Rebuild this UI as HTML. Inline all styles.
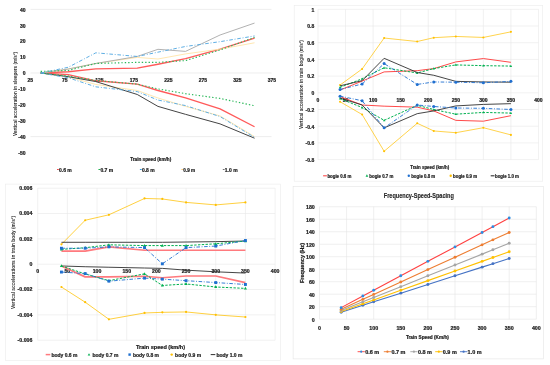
<!DOCTYPE html><html><head><meta charset="utf-8"><style>html,body{margin:0;padding:0;background:#fff;}svg{display:block;will-change:transform;}</style></head><body>
<svg width="550" height="365" viewBox="0 0 550 365" font-family="Liberation Sans, sans-serif">
<rect width="550" height="365" fill="#fff"/>
<line x1="30.5" y1="9.4" x2="271.5" y2="9.4" stroke="#e6e6e6" stroke-width="0.7"/>
<line x1="30.5" y1="73" x2="271.5" y2="73" stroke="#e6e6e6" stroke-width="0.7"/>
<line x1="30.5" y1="136.6" x2="271.5" y2="136.6" stroke="#e6e6e6" stroke-width="0.7"/>
<text x="25.6" y="152.7" font-size="5.0" font-weight="bold" fill="#1e1e1e" text-anchor="end" dominant-baseline="central" stroke="#1e1e1e" stroke-width="0.22">-50</text>
<text x="25.6" y="136.8" font-size="5.0" font-weight="bold" fill="#1e1e1e" text-anchor="end" dominant-baseline="central" stroke="#1e1e1e" stroke-width="0.22">-40</text>
<text x="25.6" y="120.9" font-size="5.0" font-weight="bold" fill="#1e1e1e" text-anchor="end" dominant-baseline="central" stroke="#1e1e1e" stroke-width="0.22">-30</text>
<text x="25.6" y="105" font-size="5.0" font-weight="bold" fill="#1e1e1e" text-anchor="end" dominant-baseline="central" stroke="#1e1e1e" stroke-width="0.22">-20</text>
<text x="25.6" y="89.1" font-size="5.0" font-weight="bold" fill="#1e1e1e" text-anchor="end" dominant-baseline="central" stroke="#1e1e1e" stroke-width="0.22">-10</text>
<text x="25.6" y="73.2" font-size="5.0" font-weight="bold" fill="#1e1e1e" text-anchor="end" dominant-baseline="central" stroke="#1e1e1e" stroke-width="0.22">0</text>
<text x="25.6" y="57.3" font-size="5.0" font-weight="bold" fill="#1e1e1e" text-anchor="end" dominant-baseline="central" stroke="#1e1e1e" stroke-width="0.22">10</text>
<text x="25.6" y="41.4" font-size="5.0" font-weight="bold" fill="#1e1e1e" text-anchor="end" dominant-baseline="central" stroke="#1e1e1e" stroke-width="0.22">20</text>
<text x="25.6" y="25.5" font-size="5.0" font-weight="bold" fill="#1e1e1e" text-anchor="end" dominant-baseline="central" stroke="#1e1e1e" stroke-width="0.22">30</text>
<text x="25.6" y="9.6" font-size="5.0" font-weight="bold" fill="#1e1e1e" text-anchor="end" dominant-baseline="central" stroke="#1e1e1e" stroke-width="0.22">40</text>
<text x="30.3" y="80" font-size="5.0" font-weight="bold" fill="#1e1e1e" text-anchor="middle" dominant-baseline="central" stroke="#1e1e1e" stroke-width="0.22">25</text>
<text x="64.8" y="80" font-size="5.0" font-weight="bold" fill="#1e1e1e" text-anchor="middle" dominant-baseline="central" stroke="#1e1e1e" stroke-width="0.22">75</text>
<text x="99.3" y="80" font-size="5.0" font-weight="bold" fill="#1e1e1e" text-anchor="middle" dominant-baseline="central" stroke="#1e1e1e" stroke-width="0.22">125</text>
<text x="133.8" y="80" font-size="5.0" font-weight="bold" fill="#1e1e1e" text-anchor="middle" dominant-baseline="central" stroke="#1e1e1e" stroke-width="0.22">175</text>
<text x="168.3" y="80" font-size="5.0" font-weight="bold" fill="#1e1e1e" text-anchor="middle" dominant-baseline="central" stroke="#1e1e1e" stroke-width="0.22">225</text>
<text x="202.8" y="80" font-size="5.0" font-weight="bold" fill="#1e1e1e" text-anchor="middle" dominant-baseline="central" stroke="#1e1e1e" stroke-width="0.22">275</text>
<text x="237.3" y="80" font-size="5.0" font-weight="bold" fill="#1e1e1e" text-anchor="middle" dominant-baseline="central" stroke="#1e1e1e" stroke-width="0.22">325</text>
<text x="271.8" y="80" font-size="5.0" font-weight="bold" fill="#1e1e1e" text-anchor="middle" dominant-baseline="central" stroke="#1e1e1e" stroke-width="0.22">375</text>
<text x="15.8" y="94" font-size="4.9" font-weight="bold" fill="#333" text-anchor="middle" dominant-baseline="central" textLength="84" lengthAdjust="spacingAndGlyphs" transform="rotate(-90 15.8 94)" stroke="#333" stroke-width="0">Vertical acceleration in sleepers (m/s²)</text>
<text x="150.7" y="159.4" font-size="5.0" font-weight="bold" fill="#1e1e1e" text-anchor="middle" dominant-baseline="central" textLength="41" lengthAdjust="spacingAndGlyphs" stroke="#1e1e1e" stroke-width="0.22">Train speed (km/h)</text>
<polyline points="40.65,73 68.25,71.73 95.85,68.87 137.25,68.07 157.95,64.25 185.55,58.69 220.05,49.15 254.55,38.02" fill="none" stroke="#ff5a5a" stroke-width="1.35" stroke-linejoin="round"/>
<polyline points="40.65,73 68.25,74.59 95.85,80.79 137.25,84.13 157.95,90.49 185.55,97.96 220.05,108.93 254.55,126.74" fill="none" stroke="#ff5a5a" stroke-width="1.35" stroke-linejoin="round"/>
<polyline points="40.65,73 68.25,69.03 95.85,63.46 137.25,57.42 157.95,59.01 185.55,53.92 220.05,49.15 254.55,42.79" fill="none" stroke="#ffe4a8" stroke-width="0.9" stroke-linejoin="round"/>
<polyline points="40.65,73 68.25,76.97 95.85,84.45 137.25,90.49 157.95,97.96 185.55,106.39 220.05,115.93 254.55,136.6" fill="none" stroke="#ffe4a8" stroke-width="0.9" stroke-linejoin="round"/>
<polyline points="40.65,73 68.25,69.03 95.85,63.46 137.25,56.46 157.95,49.31 185.55,51.38 220.05,35 254.55,23.07" fill="none" stroke="#a8a8a8" stroke-width="0.9" stroke-linejoin="round"/>
<polyline points="40.65,73 68.25,76.66 95.85,81.59 137.25,94.47 157.95,106.39 185.55,114.34 220.05,123.88 254.55,138.19" fill="none" stroke="#444444" stroke-width="1.0" stroke-linejoin="round"/>
<polyline points="40.65,71.41 68.25,70.46 95.85,63.46 137.25,62.35 157.95,62.35 185.55,60.6 220.05,49.95 254.55,37.38" fill="none" stroke="#2bb85a" stroke-width="1.15" stroke-dasharray="1.4 2" stroke-linejoin="round"/>
<polyline points="40.65,73 68.25,76.02 95.85,80.47 137.25,84.13 157.95,88.9 185.55,93.67 220.05,98.44 254.55,105.75" fill="none" stroke="#2bb85a" stroke-width="1.15" stroke-dasharray="1.4 2" stroke-linejoin="round"/>
<polyline points="40.65,73 68.25,67.28 95.85,52.81 137.25,56.46 157.95,52.17 185.55,46.45 220.05,41.68 254.55,35.95" fill="none" stroke="#55aae2" stroke-width="0.95" stroke-dasharray="3.6 1.8 0.9 1.8" stroke-linejoin="round"/>
<polyline points="40.65,73 68.25,77.77 95.85,86.83 137.25,91.6 157.95,100.03 185.55,105.59 220.05,116.57 254.55,137.4" fill="none" stroke="#55aae2" stroke-width="0.95" stroke-dasharray="3.6 1.8 0.9 1.8" stroke-linejoin="round"/>
<line x1="57" y1="169.5" x2="58.8" y2="169.5" stroke="#f04848" stroke-width="1.0"/>
<text x="59" y="169.5" font-size="5.2" font-weight="bold" fill="#1e1e1e" text-anchor="start" dominant-baseline="central" textLength="12.8" lengthAdjust="spacingAndGlyphs" stroke="#1e1e1e" stroke-width="0.22">0.6 m</text>
<line x1="98.45" y1="169.5" x2="100.25" y2="169.5" stroke="#22b050" stroke-width="1.0"/>
<text x="100.45" y="169.5" font-size="5.2" font-weight="bold" fill="#1e1e1e" text-anchor="start" dominant-baseline="central" textLength="12.8" lengthAdjust="spacingAndGlyphs" stroke="#1e1e1e" stroke-width="0.22">0.7 m</text>
<line x1="139.9" y1="169.5" x2="141.7" y2="169.5" stroke="#3399dd" stroke-width="1.0"/>
<text x="141.9" y="169.5" font-size="5.2" font-weight="bold" fill="#1e1e1e" text-anchor="start" dominant-baseline="central" textLength="12.8" lengthAdjust="spacingAndGlyphs" stroke="#1e1e1e" stroke-width="0.22">0.8 m</text>
<line x1="181.35" y1="169.5" x2="183.15" y2="169.5" stroke="#ffd080" stroke-width="1.0"/>
<text x="183.35" y="169.5" font-size="5.2" font-weight="bold" fill="#1e1e1e" text-anchor="start" dominant-baseline="central" textLength="11.8" lengthAdjust="spacingAndGlyphs" stroke="#1e1e1e" stroke-width="0.22">0.9 m</text>
<line x1="222.8" y1="169.5" x2="224.6" y2="169.5" stroke="#707070" stroke-width="1.0"/>
<text x="224.8" y="169.5" font-size="5.2" font-weight="bold" fill="#1e1e1e" text-anchor="start" dominant-baseline="central" textLength="12.8" lengthAdjust="spacingAndGlyphs" stroke="#1e1e1e" stroke-width="0.22">1.0 m</text>
<rect x="294.2" y="5.5" width="248.5" height="175.7" fill="none" stroke="#ececec" stroke-width="0.6"/>
<line x1="318" y1="9.3" x2="538.5" y2="9.3" stroke="#e8e8e8" stroke-width="0.6"/>
<line x1="318" y1="26" x2="538.5" y2="26" stroke="#e8e8e8" stroke-width="0.6"/>
<line x1="318" y1="42.7" x2="538.5" y2="42.7" stroke="#e8e8e8" stroke-width="0.6"/>
<line x1="318" y1="59.4" x2="538.5" y2="59.4" stroke="#e8e8e8" stroke-width="0.6"/>
<line x1="318" y1="76.1" x2="538.5" y2="76.1" stroke="#e8e8e8" stroke-width="0.6"/>
<line x1="318" y1="92.8" x2="538.5" y2="92.8" stroke="#e8e8e8" stroke-width="0.6"/>
<line x1="318" y1="109.5" x2="538.5" y2="109.5" stroke="#e8e8e8" stroke-width="0.6"/>
<line x1="318" y1="126.2" x2="538.5" y2="126.2" stroke="#e8e8e8" stroke-width="0.6"/>
<line x1="318" y1="142.9" x2="538.5" y2="142.9" stroke="#e8e8e8" stroke-width="0.6"/>
<line x1="318" y1="159.6" x2="538.5" y2="159.6" stroke="#e8e8e8" stroke-width="0.6"/>
<line x1="318" y1="9.3" x2="318" y2="159.6" stroke="#e8e8e8" stroke-width="0.6"/>
<line x1="345.56" y1="9.3" x2="345.56" y2="159.6" stroke="#e8e8e8" stroke-width="0.6"/>
<line x1="373.12" y1="9.3" x2="373.12" y2="159.6" stroke="#e8e8e8" stroke-width="0.6"/>
<line x1="400.68" y1="9.3" x2="400.68" y2="159.6" stroke="#e8e8e8" stroke-width="0.6"/>
<line x1="428.24" y1="9.3" x2="428.24" y2="159.6" stroke="#e8e8e8" stroke-width="0.6"/>
<line x1="455.8" y1="9.3" x2="455.8" y2="159.6" stroke="#e8e8e8" stroke-width="0.6"/>
<line x1="483.36" y1="9.3" x2="483.36" y2="159.6" stroke="#e8e8e8" stroke-width="0.6"/>
<line x1="510.92" y1="9.3" x2="510.92" y2="159.6" stroke="#e8e8e8" stroke-width="0.6"/>
<line x1="538.48" y1="9.3" x2="538.48" y2="159.6" stroke="#e8e8e8" stroke-width="0.6"/>
<text x="314.2" y="9.6" font-size="5.0" font-weight="bold" fill="#1e1e1e" text-anchor="end" dominant-baseline="central" stroke="#1e1e1e" stroke-width="0.22">1</text>
<text x="314.2" y="26.3" font-size="5.0" font-weight="bold" fill="#1e1e1e" text-anchor="end" dominant-baseline="central" stroke="#1e1e1e" stroke-width="0.22">0.8</text>
<text x="314.2" y="43" font-size="5.0" font-weight="bold" fill="#1e1e1e" text-anchor="end" dominant-baseline="central" stroke="#1e1e1e" stroke-width="0.22">0.6</text>
<text x="314.2" y="59.7" font-size="5.0" font-weight="bold" fill="#1e1e1e" text-anchor="end" dominant-baseline="central" stroke="#1e1e1e" stroke-width="0.22">0.4</text>
<text x="314.2" y="76.4" font-size="5.0" font-weight="bold" fill="#1e1e1e" text-anchor="end" dominant-baseline="central" stroke="#1e1e1e" stroke-width="0.22">0.2</text>
<text x="314.2" y="93.1" font-size="5.0" font-weight="bold" fill="#1e1e1e" text-anchor="end" dominant-baseline="central" stroke="#1e1e1e" stroke-width="0.22">0</text>
<text x="314.2" y="109.8" font-size="5.0" font-weight="bold" fill="#1e1e1e" text-anchor="end" dominant-baseline="central" stroke="#1e1e1e" stroke-width="0.22">-0.2</text>
<text x="314.2" y="126.5" font-size="5.0" font-weight="bold" fill="#1e1e1e" text-anchor="end" dominant-baseline="central" stroke="#1e1e1e" stroke-width="0.22">-0.4</text>
<text x="314.2" y="143.2" font-size="5.0" font-weight="bold" fill="#1e1e1e" text-anchor="end" dominant-baseline="central" stroke="#1e1e1e" stroke-width="0.22">-0.6</text>
<text x="314.2" y="159.9" font-size="5.0" font-weight="bold" fill="#1e1e1e" text-anchor="end" dominant-baseline="central" stroke="#1e1e1e" stroke-width="0.22">-0.8</text>
<text x="318" y="100" font-size="5.0" font-weight="bold" fill="#1e1e1e" text-anchor="middle" dominant-baseline="central" stroke="#1e1e1e" stroke-width="0.22">0</text>
<text x="345.56" y="100" font-size="5.0" font-weight="bold" fill="#1e1e1e" text-anchor="middle" dominant-baseline="central" stroke="#1e1e1e" stroke-width="0.22">50</text>
<text x="373.12" y="100" font-size="5.0" font-weight="bold" fill="#1e1e1e" text-anchor="middle" dominant-baseline="central" stroke="#1e1e1e" stroke-width="0.22">100</text>
<text x="400.68" y="100" font-size="5.0" font-weight="bold" fill="#1e1e1e" text-anchor="middle" dominant-baseline="central" stroke="#1e1e1e" stroke-width="0.22">150</text>
<text x="428.24" y="100" font-size="5.0" font-weight="bold" fill="#1e1e1e" text-anchor="middle" dominant-baseline="central" stroke="#1e1e1e" stroke-width="0.22">200</text>
<text x="455.8" y="100" font-size="5.0" font-weight="bold" fill="#1e1e1e" text-anchor="middle" dominant-baseline="central" stroke="#1e1e1e" stroke-width="0.22">250</text>
<text x="483.36" y="100" font-size="5.0" font-weight="bold" fill="#1e1e1e" text-anchor="middle" dominant-baseline="central" stroke="#1e1e1e" stroke-width="0.22">300</text>
<text x="510.92" y="100" font-size="5.0" font-weight="bold" fill="#1e1e1e" text-anchor="middle" dominant-baseline="central" stroke="#1e1e1e" stroke-width="0.22">350</text>
<text x="538.48" y="100" font-size="5.0" font-weight="bold" fill="#1e1e1e" text-anchor="middle" dominant-baseline="central" stroke="#1e1e1e" stroke-width="0.22">400</text>
<text x="302" y="84.6" font-size="4.9" font-weight="bold" fill="#333" text-anchor="middle" dominant-baseline="central" textLength="89" lengthAdjust="spacingAndGlyphs" transform="rotate(-90 302 84.6)" stroke="#333" stroke-width="0">Vertical acceleration in train bogie (m/s²)</text>
<text x="429.7" y="167.2" font-size="5.0" font-weight="bold" fill="#1e1e1e" text-anchor="middle" dominant-baseline="central" textLength="39" lengthAdjust="spacingAndGlyphs" stroke="#1e1e1e" stroke-width="0.22">Train speed (km/h)</text>
<polyline points="340.05,85.03 362.1,69 384.14,38.02 417.22,41.53 433.75,37.69 455.8,36.44 483.36,37.44 510.92,31.84" fill="none" stroke="#ffc000" stroke-width="0.7" stroke-linejoin="round"/>
<circle cx="340.05" cy="85.03" r="1.05" fill="#ffc000"/>
<circle cx="362.1" cy="69" r="1.05" fill="#ffc000"/>
<circle cx="384.14" cy="38.02" r="1.05" fill="#ffc000"/>
<circle cx="417.22" cy="41.53" r="1.05" fill="#ffc000"/>
<circle cx="433.75" cy="37.69" r="1.05" fill="#ffc000"/>
<circle cx="455.8" cy="36.44" r="1.05" fill="#ffc000"/>
<circle cx="483.36" cy="37.44" r="1.05" fill="#ffc000"/>
<circle cx="510.92" cy="31.84" r="1.05" fill="#ffc000"/>
<polyline points="340.05,101.73 362.1,114.51 384.14,151.25 417.22,123.28 433.75,130.96 455.8,132.71 483.36,127.7 510.92,134.88" fill="none" stroke="#ffc000" stroke-width="0.7" stroke-linejoin="round"/>
<circle cx="340.05" cy="101.73" r="1.05" fill="#ffc000"/>
<circle cx="362.1" cy="114.51" r="1.05" fill="#ffc000"/>
<circle cx="384.14" cy="151.25" r="1.05" fill="#ffc000"/>
<circle cx="417.22" cy="123.28" r="1.05" fill="#ffc000"/>
<circle cx="433.75" cy="130.96" r="1.05" fill="#ffc000"/>
<circle cx="455.8" cy="132.71" r="1.05" fill="#ffc000"/>
<circle cx="483.36" cy="127.7" r="1.05" fill="#ffc000"/>
<circle cx="510.92" cy="134.88" r="1.05" fill="#ffc000"/>
<polyline points="340.05,90.04 362.1,81.11 384.14,71.92 417.22,70.67 433.75,68.58 455.8,61.91 483.36,58.56 510.92,62.32" fill="none" stroke="#ff4a4a" stroke-width="1.0" stroke-linejoin="round"/>
<polyline points="340.05,96.56 362.1,104.99 384.14,106.16 417.22,107.16 433.75,110.92 455.8,120.35 483.36,121.19 510.92,115.68" fill="none" stroke="#ff4a4a" stroke-width="1.0" stroke-linejoin="round"/>
<polyline points="340.05,87.37 362.1,78.77 384.14,67.75 417.22,73.01 433.75,68.58 455.8,64.91 483.36,65.66 510.92,66.08" fill="none" stroke="#00b050" stroke-width="1.0" stroke-dasharray="2.4 1.4" stroke-linejoin="round"/>
<polygon points="340.05,86.05 338.84,88.25 341.26,88.25" fill="#00b050"/>
<polygon points="362.1,77.45 360.89,79.65 363.31,79.65" fill="#00b050"/>
<polygon points="384.14,66.43 382.93,68.63 385.35,68.63" fill="#00b050"/>
<polygon points="417.22,71.69 416.01,73.89 418.43,73.89" fill="#00b050"/>
<polygon points="433.75,67.27 432.54,69.46 434.96,69.46" fill="#00b050"/>
<polygon points="455.8,63.59 454.59,65.79 457.01,65.79" fill="#00b050"/>
<polygon points="483.36,64.34 482.15,66.54 484.57,66.54" fill="#00b050"/>
<polygon points="510.92,64.76 509.71,66.96 512.13,66.96" fill="#00b050"/>
<polyline points="340.05,98.64 362.1,107.5 384.14,120.35 417.22,105.33 433.75,109.5 455.8,114.18 483.36,112.42 510.92,113.09" fill="none" stroke="#00b050" stroke-width="1.0" stroke-dasharray="2.4 1.4" stroke-linejoin="round"/>
<polygon points="340.05,97.33 338.84,99.52 341.26,99.52" fill="#00b050"/>
<polygon points="362.1,106.18 360.89,108.38 363.31,108.38" fill="#00b050"/>
<polygon points="384.14,119.03 382.93,121.23 385.35,121.23" fill="#00b050"/>
<polygon points="417.22,104.01 416.01,106.2 418.43,106.2" fill="#00b050"/>
<polygon points="433.75,108.18 432.54,110.38 434.96,110.38" fill="#00b050"/>
<polygon points="455.8,112.86 454.59,115.06 457.01,115.06" fill="#00b050"/>
<polygon points="483.36,111.1 482.15,113.3 484.57,113.3" fill="#00b050"/>
<polygon points="510.92,111.77 509.71,113.97 512.13,113.97" fill="#00b050"/>
<polyline points="340.05,85.79 362.1,80.69 384.14,58.31 417.22,72.51 433.75,75.27 455.8,81.36 483.36,81.94 510.92,82.2" fill="none" stroke="#303030" stroke-width="0.9" stroke-linejoin="round"/>
<polyline points="340.05,98.06 362.1,104.99 384.14,127.87 417.22,113.67 433.75,110.92 455.8,105.91 483.36,104.41 510.92,103.66" fill="none" stroke="#303030" stroke-width="0.9" stroke-linejoin="round"/>
<polyline points="340.05,89.46 362.1,84.03 384.14,63.58 417.22,84.45 433.75,81.94 455.8,82.2 483.36,82.78 510.92,81.36" fill="none" stroke="#1f6fd0" stroke-width="0.9" stroke-dasharray="3.6 1.6 0.9 1.6" stroke-linejoin="round"/>
<circle cx="340.05" cy="89.46" r="1.5" fill="#1f6fd0"/>
<circle cx="362.1" cy="84.03" r="1.5" fill="#1f6fd0"/>
<circle cx="384.14" cy="63.58" r="1.5" fill="#1f6fd0"/>
<circle cx="417.22" cy="84.45" r="1.5" fill="#1f6fd0"/>
<circle cx="433.75" cy="81.94" r="1.5" fill="#1f6fd0"/>
<circle cx="455.8" cy="82.2" r="1.5" fill="#1f6fd0"/>
<circle cx="483.36" cy="82.78" r="1.5" fill="#1f6fd0"/>
<circle cx="510.92" cy="81.36" r="1.5" fill="#1f6fd0"/>
<polyline points="340.05,96.14 362.1,100.73 384.14,127.87 417.22,104.99 433.75,106.49 455.8,108 483.36,108.33 510.92,109.5" fill="none" stroke="#1f6fd0" stroke-width="0.9" stroke-dasharray="3.6 1.6 0.9 1.6" stroke-linejoin="round"/>
<circle cx="340.05" cy="96.14" r="1.5" fill="#1f6fd0"/>
<circle cx="362.1" cy="100.73" r="1.5" fill="#1f6fd0"/>
<circle cx="384.14" cy="127.87" r="1.5" fill="#1f6fd0"/>
<circle cx="417.22" cy="104.99" r="1.5" fill="#1f6fd0"/>
<circle cx="433.75" cy="106.49" r="1.5" fill="#1f6fd0"/>
<circle cx="455.8" cy="108" r="1.5" fill="#1f6fd0"/>
<circle cx="483.36" cy="108.33" r="1.5" fill="#1f6fd0"/>
<circle cx="510.92" cy="109.5" r="1.5" fill="#1f6fd0"/>
<line x1="323.1" y1="175.8" x2="326.9" y2="175.8" stroke="#ff4a4a" stroke-width="1.1"/>
<text x="327.4" y="176" font-size="4.9" font-weight="bold" fill="#1e1e1e" text-anchor="start" dominant-baseline="central" textLength="24" lengthAdjust="spacingAndGlyphs" stroke="#1e1e1e" stroke-width="0.22">bogie 0.6 m</text>
<polygon points="366.9,174.36 365.58,176.76 368.22,176.76" fill="#00b050"/>
<text x="369.3" y="176" font-size="4.9" font-weight="bold" fill="#1e1e1e" text-anchor="start" dominant-baseline="central" textLength="24" lengthAdjust="spacingAndGlyphs" stroke="#1e1e1e" stroke-width="0.22">bogie 0.7 m</text>
<circle cx="408.8" cy="175.8" r="1.2" fill="#1f6fd0"/>
<text x="411.2" y="176" font-size="4.9" font-weight="bold" fill="#1e1e1e" text-anchor="start" dominant-baseline="central" textLength="24" lengthAdjust="spacingAndGlyphs" stroke="#1e1e1e" stroke-width="0.22">bogie 0.8 m</text>
<circle cx="450.7" cy="175.8" r="1.2" fill="#ffc000"/>
<text x="453.1" y="176" font-size="4.9" font-weight="bold" fill="#1e1e1e" text-anchor="start" dominant-baseline="central" textLength="24" lengthAdjust="spacingAndGlyphs" stroke="#1e1e1e" stroke-width="0.22">bogie 0.9 m</text>
<line x1="490.7" y1="175.8" x2="494.5" y2="175.8" stroke="#303030" stroke-width="1.1"/>
<text x="495" y="176" font-size="4.9" font-weight="bold" fill="#1e1e1e" text-anchor="start" dominant-baseline="central" textLength="24" lengthAdjust="spacingAndGlyphs" stroke="#1e1e1e" stroke-width="0.22">bogie 1.0 m</text>
<rect x="5.5" y="184.1" width="275" height="176.4" fill="none" stroke="#ececec" stroke-width="0.6"/>
<line x1="37.7" y1="188.2" x2="275.1" y2="188.2" stroke="#e8e8e8" stroke-width="0.6"/>
<line x1="37.7" y1="213.53" x2="275.1" y2="213.53" stroke="#e8e8e8" stroke-width="0.6"/>
<line x1="37.7" y1="238.87" x2="275.1" y2="238.87" stroke="#e8e8e8" stroke-width="0.6"/>
<line x1="37.7" y1="264.2" x2="275.1" y2="264.2" stroke="#e8e8e8" stroke-width="0.6"/>
<line x1="37.7" y1="289.53" x2="275.1" y2="289.53" stroke="#e8e8e8" stroke-width="0.6"/>
<line x1="37.7" y1="314.87" x2="275.1" y2="314.87" stroke="#e8e8e8" stroke-width="0.6"/>
<line x1="37.7" y1="340.2" x2="275.1" y2="340.2" stroke="#e8e8e8" stroke-width="0.6"/>
<line x1="37.7" y1="188.2" x2="37.7" y2="340.2" stroke="#e8e8e8" stroke-width="0.6"/>
<line x1="67.38" y1="188.2" x2="67.38" y2="340.2" stroke="#e8e8e8" stroke-width="0.6"/>
<line x1="97.05" y1="188.2" x2="97.05" y2="340.2" stroke="#e8e8e8" stroke-width="0.6"/>
<line x1="126.73" y1="188.2" x2="126.73" y2="340.2" stroke="#e8e8e8" stroke-width="0.6"/>
<line x1="156.4" y1="188.2" x2="156.4" y2="340.2" stroke="#e8e8e8" stroke-width="0.6"/>
<line x1="186.07" y1="188.2" x2="186.07" y2="340.2" stroke="#e8e8e8" stroke-width="0.6"/>
<line x1="215.75" y1="188.2" x2="215.75" y2="340.2" stroke="#e8e8e8" stroke-width="0.6"/>
<line x1="245.43" y1="188.2" x2="245.43" y2="340.2" stroke="#e8e8e8" stroke-width="0.6"/>
<line x1="275.1" y1="188.2" x2="275.1" y2="340.2" stroke="#e8e8e8" stroke-width="0.6"/>
<text x="32.3" y="187.9" font-size="5.2" font-weight="bold" fill="#1e1e1e" text-anchor="end" dominant-baseline="central" stroke="#1e1e1e" stroke-width="0.22">0.006</text>
<text x="32.3" y="213.23" font-size="5.2" font-weight="bold" fill="#1e1e1e" text-anchor="end" dominant-baseline="central" stroke="#1e1e1e" stroke-width="0.22">0.004</text>
<text x="32.3" y="238.57" font-size="5.2" font-weight="bold" fill="#1e1e1e" text-anchor="end" dominant-baseline="central" stroke="#1e1e1e" stroke-width="0.22">0.002</text>
<text x="32.3" y="263.9" font-size="5.2" font-weight="bold" fill="#1e1e1e" text-anchor="end" dominant-baseline="central" stroke="#1e1e1e" stroke-width="0.22">0</text>
<text x="32.3" y="289.23" font-size="5.2" font-weight="bold" fill="#1e1e1e" text-anchor="end" dominant-baseline="central" stroke="#1e1e1e" stroke-width="0.22">-0.002</text>
<text x="32.3" y="314.57" font-size="5.2" font-weight="bold" fill="#1e1e1e" text-anchor="end" dominant-baseline="central" stroke="#1e1e1e" stroke-width="0.22">-0.004</text>
<text x="32.3" y="339.9" font-size="5.2" font-weight="bold" fill="#1e1e1e" text-anchor="end" dominant-baseline="central" stroke="#1e1e1e" stroke-width="0.22">-0.006</text>
<text x="37.7" y="271.3" font-size="5.2" font-weight="bold" fill="#1e1e1e" text-anchor="middle" dominant-baseline="central" stroke="#1e1e1e" stroke-width="0.22">0</text>
<text x="67.38" y="271.3" font-size="5.2" font-weight="bold" fill="#1e1e1e" text-anchor="middle" dominant-baseline="central" stroke="#1e1e1e" stroke-width="0.22">50</text>
<text x="97.05" y="271.3" font-size="5.2" font-weight="bold" fill="#1e1e1e" text-anchor="middle" dominant-baseline="central" stroke="#1e1e1e" stroke-width="0.22">100</text>
<text x="126.73" y="271.3" font-size="5.2" font-weight="bold" fill="#1e1e1e" text-anchor="middle" dominant-baseline="central" stroke="#1e1e1e" stroke-width="0.22">150</text>
<text x="156.4" y="271.3" font-size="5.2" font-weight="bold" fill="#1e1e1e" text-anchor="middle" dominant-baseline="central" stroke="#1e1e1e" stroke-width="0.22">200</text>
<text x="186.07" y="271.3" font-size="5.2" font-weight="bold" fill="#1e1e1e" text-anchor="middle" dominant-baseline="central" stroke="#1e1e1e" stroke-width="0.22">250</text>
<text x="215.75" y="271.3" font-size="5.2" font-weight="bold" fill="#1e1e1e" text-anchor="middle" dominant-baseline="central" stroke="#1e1e1e" stroke-width="0.22">300</text>
<text x="245.43" y="271.3" font-size="5.2" font-weight="bold" fill="#1e1e1e" text-anchor="middle" dominant-baseline="central" stroke="#1e1e1e" stroke-width="0.22">350</text>
<text x="275.1" y="271.3" font-size="5.2" font-weight="bold" fill="#1e1e1e" text-anchor="middle" dominant-baseline="central" stroke="#1e1e1e" stroke-width="0.22">400</text>
<text x="13.2" y="262.5" font-size="4.9" font-weight="bold" fill="#333" text-anchor="middle" dominant-baseline="central" textLength="93" lengthAdjust="spacingAndGlyphs" transform="rotate(-90 13.2 262.5)" stroke="#333" stroke-width="0">Vertical accelerations in train body (m/s²)</text>
<text x="160.5" y="346.9" font-size="5.2" font-weight="bold" fill="#1e1e1e" text-anchor="middle" dominant-baseline="central" textLength="49" lengthAdjust="spacingAndGlyphs" stroke="#1e1e1e" stroke-width="0.22">Train speed (km/h)</text>
<polyline points="61.44,244.31 85.18,220.25 108.92,214.8 144.53,198.46 162.34,198.96 186.07,202.39 215.75,204.92 245.43,202.39" fill="none" stroke="#ffc000" stroke-width="0.75" stroke-linejoin="round"/>
<circle cx="61.44" cy="244.31" r="1.1" fill="#ffc000"/>
<circle cx="85.18" cy="220.25" r="1.1" fill="#ffc000"/>
<circle cx="108.92" cy="214.8" r="1.1" fill="#ffc000"/>
<circle cx="144.53" cy="198.46" r="1.1" fill="#ffc000"/>
<circle cx="162.34" cy="198.96" r="1.1" fill="#ffc000"/>
<circle cx="186.07" cy="202.39" r="1.1" fill="#ffc000"/>
<circle cx="215.75" cy="204.92" r="1.1" fill="#ffc000"/>
<circle cx="245.43" cy="202.39" r="1.1" fill="#ffc000"/>
<polyline points="61.44,287 85.18,302.2 108.92,319.3 144.53,312.97 162.34,312.33 186.07,311.95 215.75,314.87 245.43,317.02" fill="none" stroke="#ffc000" stroke-width="0.75" stroke-linejoin="round"/>
<circle cx="61.44" cy="287" r="1.1" fill="#ffc000"/>
<circle cx="85.18" cy="302.2" r="1.1" fill="#ffc000"/>
<circle cx="108.92" cy="319.3" r="1.1" fill="#ffc000"/>
<circle cx="144.53" cy="312.97" r="1.1" fill="#ffc000"/>
<circle cx="162.34" cy="312.33" r="1.1" fill="#ffc000"/>
<circle cx="186.07" cy="311.95" r="1.1" fill="#ffc000"/>
<circle cx="215.75" cy="314.87" r="1.1" fill="#ffc000"/>
<circle cx="245.43" cy="317.02" r="1.1" fill="#ffc000"/>
<polyline points="61.44,242.29 85.18,242.29 108.92,242.29 144.53,242.29 162.34,242.29 186.07,242.03 215.75,241.65 245.43,241.02" fill="none" stroke="#303030" stroke-width="0.9" stroke-linejoin="round"/>
<polyline points="61.44,265.97 85.18,266.73 108.92,267.24 144.53,268 162.34,268.38 186.07,270.15 215.75,271.8 245.43,273.07" fill="none" stroke="#303030" stroke-width="0.9" stroke-linejoin="round"/>
<polyline points="61.44,251.15 85.18,251.15 108.92,246.85 144.53,250.27 162.34,250.27 186.07,250.27 215.75,250.27 245.43,250.27" fill="none" stroke="#ff7a7e" stroke-width="1.7" stroke-linejoin="round"/>
<polyline points="61.44,265.97 85.18,276.87 108.92,276.87 144.53,276.23 162.34,277.75 186.07,275.98 215.75,275.98 245.43,282.57" fill="none" stroke="#ff7a7e" stroke-width="1.7" stroke-linejoin="round"/>
<polyline points="61.44,249.38 85.18,247.73 108.92,244.82 144.53,245.58 162.34,245.58 186.07,245.58 215.75,243.81 245.43,241.02" fill="none" stroke="#00b050" stroke-width="1.0" stroke-dasharray="2.4 1.4" stroke-linejoin="round"/>
<polygon points="61.44,247.7 59.9,250.5 62.98,250.5" fill="#00b050"/>
<polygon points="85.18,246.05 83.64,248.85 86.72,248.85" fill="#00b050"/>
<polygon points="108.92,243.14 107.38,245.94 110.46,245.94" fill="#00b050"/>
<polygon points="144.53,243.9 142.99,246.7 146.07,246.7" fill="#00b050"/>
<polygon points="162.34,243.9 160.8,246.7 163.88,246.7" fill="#00b050"/>
<polygon points="186.07,243.9 184.53,246.7 187.61,246.7" fill="#00b050"/>
<polygon points="215.75,242.13 214.21,244.93 217.29,244.93" fill="#00b050"/>
<polygon points="245.43,239.34 243.89,242.14 246.97,242.14" fill="#00b050"/>
<polyline points="61.44,265.97 85.18,273.95 108.92,280.67 144.53,273.83 162.34,285.48 186.07,283.96 215.75,287 245.43,288.39" fill="none" stroke="#00b050" stroke-width="1.0" stroke-dasharray="2.4 1.4" stroke-linejoin="round"/>
<polygon points="61.44,264.29 59.9,267.09 62.98,267.09" fill="#00b050"/>
<polygon points="85.18,272.27 83.64,275.07 86.72,275.07" fill="#00b050"/>
<polygon points="108.92,278.99 107.38,281.79 110.46,281.79" fill="#00b050"/>
<polygon points="144.53,272.15 142.99,274.95 146.07,274.95" fill="#00b050"/>
<polygon points="162.34,283.8 160.8,286.6 163.88,286.6" fill="#00b050"/>
<polygon points="186.07,282.28 184.53,285.08 187.61,285.08" fill="#00b050"/>
<polygon points="215.75,285.32 214.21,288.12 217.29,288.12" fill="#00b050"/>
<polygon points="245.43,286.71 243.89,289.51 246.97,289.51" fill="#00b050"/>
<polyline points="61.44,248.24 85.18,248.24 108.92,246.85 144.53,247.61 162.34,263.82 186.07,247.61 215.75,246.09 245.43,240.51" fill="none" stroke="#1f6fd0" stroke-width="0.9" stroke-dasharray="3.6 1.6 0.9 1.6" stroke-linejoin="round"/>
<rect x="59.99" y="246.79" width="2.9" height="2.9" fill="#1f6fd0"/>
<rect x="83.73" y="246.79" width="2.9" height="2.9" fill="#1f6fd0"/>
<rect x="107.47" y="245.4" width="2.9" height="2.9" fill="#1f6fd0"/>
<rect x="143.08" y="246.16" width="2.9" height="2.9" fill="#1f6fd0"/>
<rect x="160.89" y="262.37" width="2.9" height="2.9" fill="#1f6fd0"/>
<rect x="184.62" y="246.16" width="2.9" height="2.9" fill="#1f6fd0"/>
<rect x="214.3" y="244.64" width="2.9" height="2.9" fill="#1f6fd0"/>
<rect x="243.98" y="239.06" width="2.9" height="2.9" fill="#1f6fd0"/>
<polyline points="61.44,272.05 85.18,273.57 108.92,281.17 144.53,278.13 162.34,279.15 186.07,280.67 215.75,282.57 245.43,284.47" fill="none" stroke="#1f6fd0" stroke-width="0.9" stroke-dasharray="3.6 1.6 0.9 1.6" stroke-linejoin="round"/>
<rect x="59.99" y="270.6" width="2.9" height="2.9" fill="#1f6fd0"/>
<rect x="83.73" y="272.12" width="2.9" height="2.9" fill="#1f6fd0"/>
<rect x="107.47" y="279.72" width="2.9" height="2.9" fill="#1f6fd0"/>
<rect x="143.08" y="276.68" width="2.9" height="2.9" fill="#1f6fd0"/>
<rect x="160.89" y="277.7" width="2.9" height="2.9" fill="#1f6fd0"/>
<rect x="184.62" y="279.22" width="2.9" height="2.9" fill="#1f6fd0"/>
<rect x="214.3" y="281.12" width="2.9" height="2.9" fill="#1f6fd0"/>
<rect x="243.98" y="283.02" width="2.9" height="2.9" fill="#1f6fd0"/>
<line x1="45.7" y1="354.6" x2="50.3" y2="354.6" stroke="#ff7a7e" stroke-width="1.5"/>
<text x="51.4" y="354.8" font-size="5.4" font-weight="bold" fill="#1e1e1e" text-anchor="start" dominant-baseline="central" textLength="26" lengthAdjust="spacingAndGlyphs" stroke="#1e1e1e" stroke-width="0.22">body 0.6 m</text>
<polygon points="89,353.16 87.68,355.56 90.32,355.56" fill="#00b050"/>
<text x="92.4" y="354.8" font-size="5.4" font-weight="bold" fill="#1e1e1e" text-anchor="start" dominant-baseline="central" textLength="26" lengthAdjust="spacingAndGlyphs" stroke="#1e1e1e" stroke-width="0.22">body 0.7 m</text>
<rect x="128.4" y="353.4" width="2.4" height="2.4" fill="#1f6fd0"/>
<text x="133" y="354.8" font-size="5.4" font-weight="bold" fill="#1e1e1e" text-anchor="start" dominant-baseline="central" textLength="26" lengthAdjust="spacingAndGlyphs" stroke="#1e1e1e" stroke-width="0.22">body 0.8 m</text>
<circle cx="171.7" cy="354.6" r="1.2" fill="#ffc000"/>
<text x="175.1" y="354.8" font-size="5.4" font-weight="bold" fill="#1e1e1e" text-anchor="start" dominant-baseline="central" textLength="26" lengthAdjust="spacingAndGlyphs" stroke="#1e1e1e" stroke-width="0.22">body 0.9 m</text>
<line x1="210.7" y1="354.6" x2="215.3" y2="354.6" stroke="#303030" stroke-width="1.0"/>
<text x="216.4" y="354.8" font-size="5.4" font-weight="bold" fill="#1e1e1e" text-anchor="start" dominant-baseline="central" textLength="26" lengthAdjust="spacingAndGlyphs" stroke="#1e1e1e" stroke-width="0.22">body 1.0 m</text>
<rect x="293.1" y="186.6" width="250.5" height="172.3" fill="none" stroke="#e4e4e4" stroke-width="0.6"/>
<line x1="319.5" y1="319.2" x2="536.3" y2="319.2" stroke="#e4e4e4" stroke-width="0.6"/>
<line x1="319.5" y1="306.71" x2="536.3" y2="306.71" stroke="#e4e4e4" stroke-width="0.6"/>
<line x1="319.5" y1="294.21" x2="536.3" y2="294.21" stroke="#e4e4e4" stroke-width="0.6"/>
<line x1="319.5" y1="281.72" x2="536.3" y2="281.72" stroke="#e4e4e4" stroke-width="0.6"/>
<line x1="319.5" y1="269.22" x2="536.3" y2="269.22" stroke="#e4e4e4" stroke-width="0.6"/>
<line x1="319.5" y1="256.73" x2="536.3" y2="256.73" stroke="#e4e4e4" stroke-width="0.6"/>
<line x1="319.5" y1="244.24" x2="536.3" y2="244.24" stroke="#e4e4e4" stroke-width="0.6"/>
<line x1="319.5" y1="231.74" x2="536.3" y2="231.74" stroke="#e4e4e4" stroke-width="0.6"/>
<line x1="319.5" y1="219.25" x2="536.3" y2="219.25" stroke="#e4e4e4" stroke-width="0.6"/>
<line x1="319.5" y1="206.75" x2="536.3" y2="206.75" stroke="#e4e4e4" stroke-width="0.6"/>
<line x1="319.5" y1="206.7" x2="319.5" y2="319.2" stroke="#e4e4e4" stroke-width="0.6"/>
<line x1="346.6" y1="206.7" x2="346.6" y2="319.2" stroke="#e4e4e4" stroke-width="0.6"/>
<line x1="373.7" y1="206.7" x2="373.7" y2="319.2" stroke="#e4e4e4" stroke-width="0.6"/>
<line x1="400.8" y1="206.7" x2="400.8" y2="319.2" stroke="#e4e4e4" stroke-width="0.6"/>
<line x1="427.9" y1="206.7" x2="427.9" y2="319.2" stroke="#e4e4e4" stroke-width="0.6"/>
<line x1="455" y1="206.7" x2="455" y2="319.2" stroke="#e4e4e4" stroke-width="0.6"/>
<line x1="482.1" y1="206.7" x2="482.1" y2="319.2" stroke="#e4e4e4" stroke-width="0.6"/>
<line x1="509.2" y1="206.7" x2="509.2" y2="319.2" stroke="#e4e4e4" stroke-width="0.6"/>
<line x1="536.3" y1="206.7" x2="536.3" y2="319.2" stroke="#e4e4e4" stroke-width="0.6"/>
<text x="314.8" y="319.6" font-size="5.3" font-weight="bold" fill="#1e1e1e" text-anchor="end" dominant-baseline="central" stroke="#1e1e1e" stroke-width="0.22">0</text>
<text x="314.8" y="307.11" font-size="5.3" font-weight="bold" fill="#1e1e1e" text-anchor="end" dominant-baseline="central" stroke="#1e1e1e" stroke-width="0.22">20</text>
<text x="314.8" y="294.61" font-size="5.3" font-weight="bold" fill="#1e1e1e" text-anchor="end" dominant-baseline="central" stroke="#1e1e1e" stroke-width="0.22">40</text>
<text x="314.8" y="282.12" font-size="5.3" font-weight="bold" fill="#1e1e1e" text-anchor="end" dominant-baseline="central" stroke="#1e1e1e" stroke-width="0.22">60</text>
<text x="314.8" y="269.62" font-size="5.3" font-weight="bold" fill="#1e1e1e" text-anchor="end" dominant-baseline="central" stroke="#1e1e1e" stroke-width="0.22">80</text>
<text x="314.8" y="257.13" font-size="5.3" font-weight="bold" fill="#1e1e1e" text-anchor="end" dominant-baseline="central" stroke="#1e1e1e" stroke-width="0.22">100</text>
<text x="314.8" y="244.64" font-size="5.3" font-weight="bold" fill="#1e1e1e" text-anchor="end" dominant-baseline="central" stroke="#1e1e1e" stroke-width="0.22">120</text>
<text x="314.8" y="232.14" font-size="5.3" font-weight="bold" fill="#1e1e1e" text-anchor="end" dominant-baseline="central" stroke="#1e1e1e" stroke-width="0.22">140</text>
<text x="314.8" y="219.65" font-size="5.3" font-weight="bold" fill="#1e1e1e" text-anchor="end" dominant-baseline="central" stroke="#1e1e1e" stroke-width="0.22">160</text>
<text x="314.8" y="207.15" font-size="5.3" font-weight="bold" fill="#1e1e1e" text-anchor="end" dominant-baseline="central" stroke="#1e1e1e" stroke-width="0.22">180</text>
<text x="319.5" y="327.9" font-size="5.3" font-weight="bold" fill="#1e1e1e" text-anchor="middle" dominant-baseline="central" stroke="#1e1e1e" stroke-width="0.22">0</text>
<text x="346.6" y="327.9" font-size="5.3" font-weight="bold" fill="#1e1e1e" text-anchor="middle" dominant-baseline="central" stroke="#1e1e1e" stroke-width="0.22">50</text>
<text x="373.7" y="327.9" font-size="5.3" font-weight="bold" fill="#1e1e1e" text-anchor="middle" dominant-baseline="central" stroke="#1e1e1e" stroke-width="0.22">100</text>
<text x="400.8" y="327.9" font-size="5.3" font-weight="bold" fill="#1e1e1e" text-anchor="middle" dominant-baseline="central" stroke="#1e1e1e" stroke-width="0.22">150</text>
<text x="427.9" y="327.9" font-size="5.3" font-weight="bold" fill="#1e1e1e" text-anchor="middle" dominant-baseline="central" stroke="#1e1e1e" stroke-width="0.22">200</text>
<text x="455" y="327.9" font-size="5.3" font-weight="bold" fill="#1e1e1e" text-anchor="middle" dominant-baseline="central" stroke="#1e1e1e" stroke-width="0.22">250</text>
<text x="482.1" y="327.9" font-size="5.3" font-weight="bold" fill="#1e1e1e" text-anchor="middle" dominant-baseline="central" stroke="#1e1e1e" stroke-width="0.22">300</text>
<text x="509.2" y="327.9" font-size="5.3" font-weight="bold" fill="#1e1e1e" text-anchor="middle" dominant-baseline="central" stroke="#1e1e1e" stroke-width="0.22">350</text>
<text x="536.3" y="327.9" font-size="5.3" font-weight="bold" fill="#1e1e1e" text-anchor="middle" dominant-baseline="central" stroke="#1e1e1e" stroke-width="0.22">400</text>
<text x="418.8" y="195" font-size="7.3" font-weight="bold" fill="#262626" text-anchor="middle" dominant-baseline="central" textLength="70" lengthAdjust="spacingAndGlyphs" stroke="#262626" stroke-width="0.15">Frequency-Speed-Spacing</text>
<text x="302.1" y="263" font-size="5.0" font-weight="bold" fill="#1e1e1e" text-anchor="middle" dominant-baseline="central" textLength="40" lengthAdjust="spacingAndGlyphs" transform="rotate(-90 302.1 263)" stroke="#1e1e1e" stroke-width="0.22">Frequency (Hz)</text>
<text x="427.4" y="337.2" font-size="5.0" font-weight="bold" fill="#1e1e1e" text-anchor="middle" dominant-baseline="central" textLength="43" lengthAdjust="spacingAndGlyphs" stroke="#1e1e1e" stroke-width="0.22">Train Speed (Km/h)</text>
<polyline points="341.18,312.26 362.86,305.32 373.7,301.85 400.8,293.17 427.9,284.49 455,275.82 482.1,267.14 492.94,263.67 509.2,258.47" fill="none" stroke="#4472c4" stroke-width="1.1" stroke-linejoin="round"/>
<circle cx="341.18" cy="312.26" r="1.45" fill="#4472c4"/>
<circle cx="362.86" cy="305.32" r="1.45" fill="#4472c4"/>
<circle cx="373.7" cy="301.85" r="1.45" fill="#4472c4"/>
<circle cx="400.8" cy="293.17" r="1.45" fill="#4472c4"/>
<circle cx="427.9" cy="284.49" r="1.45" fill="#4472c4"/>
<circle cx="455" cy="275.82" r="1.45" fill="#4472c4"/>
<circle cx="482.1" cy="267.14" r="1.45" fill="#4472c4"/>
<circle cx="492.94" cy="263.67" r="1.45" fill="#4472c4"/>
<circle cx="509.2" cy="258.47" r="1.45" fill="#4472c4"/>
<polyline points="341.18,311.49 362.86,303.78 373.7,299.92 400.8,290.28 427.9,280.64 455,271 482.1,261.36 492.94,257.5 509.2,251.72" fill="none" stroke="#ffc000" stroke-width="1.1" stroke-linejoin="round"/>
<circle cx="341.18" cy="311.49" r="1.45" fill="#ffc000"/>
<circle cx="362.86" cy="303.78" r="1.45" fill="#ffc000"/>
<circle cx="373.7" cy="299.92" r="1.45" fill="#ffc000"/>
<circle cx="400.8" cy="290.28" r="1.45" fill="#ffc000"/>
<circle cx="427.9" cy="280.64" r="1.45" fill="#ffc000"/>
<circle cx="455" cy="271" r="1.45" fill="#ffc000"/>
<circle cx="482.1" cy="261.36" r="1.45" fill="#ffc000"/>
<circle cx="492.94" cy="257.5" r="1.45" fill="#ffc000"/>
<circle cx="509.2" cy="251.72" r="1.45" fill="#ffc000"/>
<polyline points="341.18,310.52 362.86,301.85 373.7,297.51 400.8,286.66 427.9,275.82 455,264.97 482.1,254.13 492.94,249.79 509.2,243.28" fill="none" stroke="#a5a5a5" stroke-width="1.1" stroke-linejoin="round"/>
<circle cx="341.18" cy="310.52" r="1.45" fill="#a5a5a5"/>
<circle cx="362.86" cy="301.85" r="1.45" fill="#a5a5a5"/>
<circle cx="373.7" cy="297.51" r="1.45" fill="#a5a5a5"/>
<circle cx="400.8" cy="286.66" r="1.45" fill="#a5a5a5"/>
<circle cx="427.9" cy="275.82" r="1.45" fill="#a5a5a5"/>
<circle cx="455" cy="264.97" r="1.45" fill="#a5a5a5"/>
<circle cx="482.1" cy="254.13" r="1.45" fill="#a5a5a5"/>
<circle cx="492.94" cy="249.79" r="1.45" fill="#a5a5a5"/>
<circle cx="509.2" cy="243.28" r="1.45" fill="#a5a5a5"/>
<polyline points="341.18,309.28 362.86,299.37 373.7,294.41 400.8,282.02 427.9,269.62 455,257.23 482.1,244.83 492.94,239.87 509.2,232.44" fill="none" stroke="#ed7d31" stroke-width="1.1" stroke-linejoin="round"/>
<circle cx="341.18" cy="309.28" r="1.45" fill="#ed7d31"/>
<circle cx="362.86" cy="299.37" r="1.45" fill="#ed7d31"/>
<circle cx="373.7" cy="294.41" r="1.45" fill="#ed7d31"/>
<circle cx="400.8" cy="282.02" r="1.45" fill="#ed7d31"/>
<circle cx="427.9" cy="269.62" r="1.45" fill="#ed7d31"/>
<circle cx="455" cy="257.23" r="1.45" fill="#ed7d31"/>
<circle cx="482.1" cy="244.83" r="1.45" fill="#ed7d31"/>
<circle cx="492.94" cy="239.87" r="1.45" fill="#ed7d31"/>
<circle cx="509.2" cy="232.44" r="1.45" fill="#ed7d31"/>
<polyline points="341.18,307.63 362.86,296.06 373.7,290.28 400.8,275.82 427.9,261.36 455,246.9 482.1,232.44 492.94,226.65 509.2,217.98" fill="none" stroke="#ff4040" stroke-width="1.1" stroke-linejoin="round"/>
<circle cx="341.18" cy="307.63" r="1.45" fill="#2e8be0"/>
<circle cx="362.86" cy="296.06" r="1.45" fill="#2e8be0"/>
<circle cx="373.7" cy="290.28" r="1.45" fill="#2e8be0"/>
<circle cx="400.8" cy="275.82" r="1.45" fill="#2e8be0"/>
<circle cx="427.9" cy="261.36" r="1.45" fill="#2e8be0"/>
<circle cx="455" cy="246.9" r="1.45" fill="#2e8be0"/>
<circle cx="482.1" cy="232.44" r="1.45" fill="#2e8be0"/>
<circle cx="492.94" cy="226.65" r="1.45" fill="#2e8be0"/>
<circle cx="509.2" cy="217.98" r="1.45" fill="#2e8be0"/>
<line x1="357.6" y1="351.7" x2="364.8" y2="351.7" stroke="#ff4040" stroke-width="0.9"/>
<circle cx="361.2" cy="351.7" r="1.1" fill="#2e8be0"/>
<text x="365.2" y="351.9" font-size="5.2" font-weight="bold" fill="#1e1e1e" text-anchor="start" dominant-baseline="central" textLength="14" lengthAdjust="spacingAndGlyphs" stroke="#1e1e1e" stroke-width="0.22">0.6 m</text>
<line x1="383.8" y1="351.7" x2="391" y2="351.7" stroke="#ed7d31" stroke-width="0.9"/>
<circle cx="387.4" cy="351.7" r="1.1" fill="#ed7d31"/>
<text x="391.4" y="351.9" font-size="5.2" font-weight="bold" fill="#1e1e1e" text-anchor="start" dominant-baseline="central" textLength="14" lengthAdjust="spacingAndGlyphs" stroke="#1e1e1e" stroke-width="0.22">0.7 m</text>
<line x1="410.3" y1="351.7" x2="417.5" y2="351.7" stroke="#a5a5a5" stroke-width="0.9"/>
<circle cx="413.9" cy="351.7" r="1.1" fill="#a5a5a5"/>
<text x="417.9" y="351.9" font-size="5.2" font-weight="bold" fill="#1e1e1e" text-anchor="start" dominant-baseline="central" textLength="14" lengthAdjust="spacingAndGlyphs" stroke="#1e1e1e" stroke-width="0.22">0.8 m</text>
<line x1="435.2" y1="351.7" x2="442.4" y2="351.7" stroke="#ffc000" stroke-width="0.9"/>
<circle cx="438.8" cy="351.7" r="1.1" fill="#ffc000"/>
<text x="442.8" y="351.9" font-size="5.2" font-weight="bold" fill="#1e1e1e" text-anchor="start" dominant-baseline="central" textLength="14" lengthAdjust="spacingAndGlyphs" stroke="#1e1e1e" stroke-width="0.22">0.9 m</text>
<line x1="460" y1="351.7" x2="467.2" y2="351.7" stroke="#4472c4" stroke-width="0.9"/>
<circle cx="463.6" cy="351.7" r="1.1" fill="#4472c4"/>
<text x="467.6" y="351.9" font-size="5.2" font-weight="bold" fill="#1e1e1e" text-anchor="start" dominant-baseline="central" textLength="14" lengthAdjust="spacingAndGlyphs" stroke="#1e1e1e" stroke-width="0.22">1.0 m</text>
</svg></body></html>
